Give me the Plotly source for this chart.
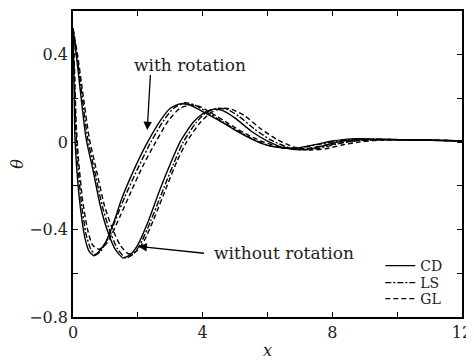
import plotly.graph_objects as go

# ---- data ----
# with rotation
x_w_cd = [0, 0.03, 0.06, 0.12, 0.22, 0.37, 0.5, 0.65, 0.8, 1.0, 1.25, 1.5, 1.9, 2.3, 2.7, 3.0, 3.3, 3.6, 4.0, 4.5, 5.0, 5.5, 6.0, 6.5, 6.9, 7.5, 8.0, 8.6, 9.5, 10.5, 12]
y_w_cd = [0.52, 0.27, 0.02, -0.13, -0.29, -0.44, -0.50, -0.52, -0.50, -0.46, -0.37, -0.26, -0.12, 0.0, 0.10, 0.155, 0.175, 0.17, 0.14, 0.10, 0.055, 0.015, -0.015, -0.027, -0.027, -0.01, 0.005, 0.015, 0.013, 0.01, 0.006]

x_w_ls = [0, 0.04, 0.09, 0.15, 0.26, 0.4, 0.55, 0.7, 0.85, 1.05, 1.3, 1.6, 2.0, 2.4, 2.8, 3.1, 3.45, 3.75, 4.1, 4.6, 5.1, 5.6, 6.1, 6.6, 7.0, 7.6, 8.1, 8.7, 9.5, 10.5, 12]
y_w_ls = [0.52, 0.30, 0.05, -0.10, -0.28, -0.42, -0.49, -0.515, -0.50, -0.45, -0.36, -0.25, -0.12, 0.0, 0.10, 0.155, 0.18, 0.17, 0.14, 0.095, 0.05, 0.01, -0.018, -0.028, -0.025, -0.01, 0.004, 0.012, 0.013, 0.01, 0.006]

x_w_gl = [0, 0.05, 0.1, 0.17, 0.3, 0.45, 0.6, 0.8, 1.0, 1.2, 1.45, 1.75, 2.15, 2.55, 2.95, 3.3, 3.65, 3.95, 4.3, 4.8, 5.3, 5.8, 6.3, 6.8, 7.2, 7.8, 8.4, 9.0, 9.8, 10.8, 12]
y_w_gl = [0.52, 0.32, 0.08, -0.08, -0.27, -0.40, -0.47, -0.49, -0.47, -0.42, -0.34, -0.24, -0.11, 0.0, 0.10, 0.155, 0.17, 0.16, 0.13, 0.085, 0.04, 0.005, -0.02, -0.03, -0.028, -0.015, 0.0, 0.01, 0.012, 0.01, 0.006]

# without rotation
x_n_cd = [0, 0.1, 0.2, 0.4, 0.62, 0.84, 1.05, 1.3, 1.55, 1.8, 2.0, 2.3, 2.7, 3.0, 3.3, 3.7, 4.0, 4.3, 4.6, 5.0, 5.5, 6.0, 6.5, 7.0, 7.5, 8.0, 8.5, 9.0, 10, 11, 12]
y_n_cd = [0.52, 0.40, 0.27, 0.02, -0.13, -0.29, -0.40, -0.49, -0.53, -0.51, -0.47, -0.37, -0.21, -0.10, 0.0, 0.09, 0.13, 0.15, 0.145, 0.11, 0.05, 0.005, -0.025, -0.035, -0.025, -0.005, 0.008, 0.012, 0.011, 0.009, 0.006]

x_n_ls = [0, 0.12, 0.24, 0.45, 0.68, 0.9, 1.12, 1.38, 1.63, 1.88, 2.1, 2.4, 2.8, 3.1, 3.4, 3.8, 4.1, 4.45, 4.75, 5.1, 5.6, 6.1, 6.6, 7.1, 7.6, 8.1, 8.6, 9.2, 10, 11, 12]
y_n_ls = [0.52, 0.40, 0.26, 0.02, -0.14, -0.29, -0.40, -0.49, -0.53, -0.51, -0.46, -0.36, -0.21, -0.10, 0.0, 0.09, 0.135, 0.155, 0.15, 0.12, 0.06, 0.01, -0.022, -0.035, -0.028, -0.01, 0.004, 0.01, 0.011, 0.009, 0.006]

x_n_gl = [0, 0.14, 0.28, 0.5, 0.74, 0.97, 1.2, 1.45, 1.7, 1.95, 2.2, 2.5, 2.9, 3.2, 3.5, 3.9, 4.25, 4.6, 4.9, 5.3, 5.8, 6.3, 6.8, 7.3, 7.8, 8.3, 8.8, 9.4, 10.2, 11, 12]
y_n_gl = [0.52, 0.40, 0.25, 0.02, -0.14, -0.29, -0.39, -0.47, -0.51, -0.50, -0.45, -0.35, -0.20, -0.09, 0.0, 0.085, 0.135, 0.155, 0.15, 0.12, 0.06, 0.012, -0.022, -0.036, -0.03, -0.013, 0.0, 0.009, 0.011, 0.009, 0.006]

series_names = ["CD", "LS", "GL"]
x_ticks = [0, 2, 4, 6, 8, 10, 12]
x_ticklabels = ["0", "", "4", "", "8", "", "12"]
y_ticks = [-0.8, -0.6, -0.4, -0.2, 0, 0.2, 0.4]
y_ticklabels = ["−0.8", "", "−0.4", "", "0", "", "0.4"]

FONT = "DejaVu Serif"
TXT = "#222"
dashes = ["solid", "6px,2px,2px,2px", "5px,3px"]
legend_ids = ["legend", "legend2", "legend3"]

fig = go.Figure()
groups = [
    [(x_w_cd, y_w_cd), (x_w_ls, y_w_ls), (x_w_gl, y_w_gl)],
    [(x_n_cd, y_n_cd), (x_n_ls, y_n_ls), (x_n_gl, y_n_gl)],
]
for gi, grp in enumerate(groups):
    for si, (xs, ys) in enumerate(grp):
        fig.add_trace(go.Scatter(
            x=xs, y=ys, mode="lines", name=series_names[si],
            legend=legend_ids[si], showlegend=(gi == 0),
            line=dict(color="black", width=1.4, dash=dashes[si], shape="spline", smoothing=0.6),
        ))

axis_common = dict(
    showline=True, linecolor="black", linewidth=1.5, mirror="allticks",
    ticks="inside", ticklen=5, tickwidth=1.2, tickcolor="black",
    showgrid=False, zeroline=False, automargin=False,
    tickfont=dict(family=FONT, size=16, color=TXT),
)
fig.update_xaxes(range=[0, 12], tickmode="array", tickvals=x_ticks, ticktext=x_ticklabels,
                 title=dict(text="<i>x</i>", font=dict(family=FONT, size=16, color=TXT), standoff=6),
                 **axis_common)
fig.update_yaxes(range=[-0.8, 0.6], tickmode="array", tickvals=y_ticks, ticktext=y_ticklabels,
                 title=dict(text="<i>θ</i>", font=dict(family=FONT, size=16, color=TXT), standoff=14),
                 **axis_common)

fig.add_annotation(x=2.29, y=0.055, ax=2.39, ay=0.314, xref="x", yref="y", axref="x", ayref="y",
                   text="", showarrow=True, arrowhead=2, arrowsize=1.3, arrowwidth=1.3, arrowcolor="black")
fig.add_annotation(x=3.6, y=0.355, xref="x", yref="y", text="with rotation", showarrow=False,
                   font=dict(family=FONT, size=17, color=TXT))
fig.add_annotation(x=2.02, y=-0.477, ax=4.09, ay=-0.509, xref="x", yref="y", axref="x", ayref="y",
                   text="", showarrow=True, arrowhead=2, arrowsize=1.3, arrowwidth=1.3, arrowcolor="black")
fig.add_annotation(x=4.3, y=-0.505, xref="x", yref="y", text="without rotation", showarrow=False,
                   xanchor="left", font=dict(family=FONT, size=17, color=TXT))

leg_style = dict(xanchor="left", yanchor="middle", bgcolor="rgba(0,0,0,0)",
                 font=dict(family=FONT, size=14, color=TXT), itemwidth=30)
# page has an 8px body margin: figure is drawn 8px right/down of the window corner
fig.update_layout(
    width=466, height=352,
    margin=dict(l=65, r=12, t=3, b=43),
    paper_bgcolor="white", plot_bgcolor="white",
    showlegend=True,
    legend=dict(x=0.79, y=(317 - 266) / 306, **leg_style),
    legend2=dict(x=0.79, y=(317 - 283) / 306, **leg_style),
    legend3=dict(x=0.79, y=(317 - 299) / 306, **leg_style),
)
fig.write_html("out.html")
